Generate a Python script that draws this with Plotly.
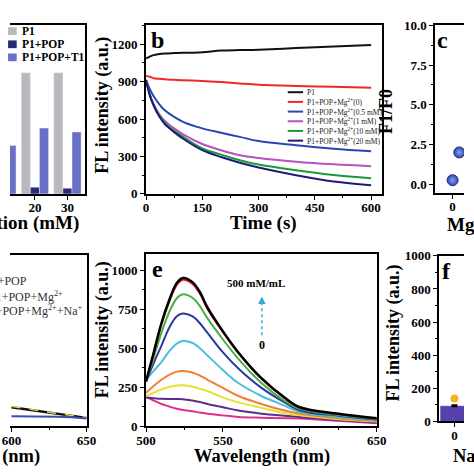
import plotly.graph_objects as go

W = 474
SERIF = "Liberation Serif"

# panel a: bars vs concentration (mM)
conc_a = [10, 20, 30]
p1_a = [862, 862, 862]
p1_pop_a = [50, 48, 41]
p1_pop_t1_a = [345, 469, 441]

# panel b: kinetics, time (s)
time_b = [0, 10, 20, 35, 50, 75, 100, 150, 200, 250, 300, 400, 500, 600]
b_p1 = [1085, 1100, 1112, 1120, 1125, 1128, 1130, 1135, 1148, 1152, 1155, 1168, 1180, 1192]
b_mg0 = [944, 938, 927, 922, 918, 914, 910, 905, 896, 885, 875, 865, 858, 851]
b_mg05 = [913, 840, 784, 720, 670, 617, 575, 525, 490, 457, 423, 390, 362, 341]
b_mg1 = [913, 800, 720, 640, 585, 525, 475, 400, 350, 310, 288, 258, 237, 222]
b_mg10 = [913, 795, 715, 630, 570, 505, 455, 365, 315, 270, 235, 190, 152, 126]
b_mg20 = [913, 790, 710, 622, 560, 495, 440, 350, 295, 250, 212, 150, 100, 70]
b_names = ["P1", "P1+POP+Mg<sup>2+</sup>(0)", "P1+POP+Mg<sup>2+</sup>(0.5 mM)",
           "P1+POP+Mg<sup>2+</sup>(1 mM)", "P1+POP+Mg<sup>2+</sup>(10 mM)",
           "P1+POP+Mg<sup>2+</sup>(20 mM)"]
b_colors = ["#111111", "#f02828", "#2a44b8", "#b850c0", "#1c9a3a", "#1c1c78"]

# panel c: F1/F0 vs Mg concentration
conc_c = [0, 0.5]
ratio_c = [0.25, 2.0]

# panel d: spectra tails
wl_d = [600, 610, 620, 630, 640, 650]
d_pop = [122, 108, 95, 80, 66, 54]
d_pop_mg = [128, 112, 98, 83, 70, 58]
d_pop_mg_na = [64, 64, 63, 62, 58, 50]
d_names = ["P1+POP", "P1+POP+Mg<sup>2+</sup>", "P1+POP+Mg<sup>2+</sup>+Na<sup>+</sup>"]

# panel e: titration spectra
wl_e = [500, 505, 510, 515, 520, 524, 530, 535, 540, 550, 560, 575, 590, 600, 625, 650]
e_black = [287, 473, 660, 806, 918, 950, 925, 860, 760, 608, 473, 308, 184, 122, 80, 52]
e_red = [287, 465, 650, 795, 905, 938, 913, 850, 752, 603, 470, 305, 182, 120, 78, 50]
e_green = [287, 440, 598, 730, 820, 846, 825, 770, 691, 556, 432, 277, 163, 112, 72, 47]
e_navy = [287, 405, 515, 630, 705, 722, 705, 660, 598, 473, 370, 246, 153, 101, 68, 44]
e_cyan = [298, 355, 411, 480, 530, 546, 535, 500, 453, 360, 277, 194, 132, 91, 60, 40]
e_orange = [215, 258, 298, 330, 350, 354, 345, 325, 298, 246, 194, 143, 101, 81, 52, 34]
e_yellow = [194, 215, 236, 252, 262, 263, 255, 240, 225, 184, 153, 118, 85, 70, 45, 30]
e_purple = [184, 180, 176, 175, 175, 174, 165, 155, 143, 122, 101, 81, 68, 60, 40, 25]
e_pink = [188, 165, 143, 127, 112, 105, 97, 88, 81, 70, 60, 55, 52, 50, 35, 20]
e_series = [e_pink, e_purple, e_yellow, e_orange, e_cyan, e_navy, e_green, e_red, e_black]
e_colors = ["#e0308c", "#5e2a8e", "#e8e030", "#f08034", "#48c0d8", "#2a3a9c", "#44b044", "#e82028", "#000000"]

# panel f
conc_f = [0]
fl_f = [95]
err_f = [5]
dot_f = [138]


def xd(a, b):
  return [a / W, b / W]


def yd(top, bottom):
  return [1 - bottom / W, 1 - top / W]


def px(x):
  return x / W


def py(y):
  return 1 - y / W


def ann(text, x, y, size, anchor="center", bold=True, angle=0, color="black"):
  return dict(text=text, x=px(x), y=py(y), xref="paper", yref="paper", showarrow=False,
              xanchor=anchor, yanchor="middle", textangle=angle,
              font=dict(family=SERIF, size=size, color=color, weight="bold" if bold else "normal"))


fig = go.Figure()

# a
for vals, col, off in [(p1_a, "#b9b9bd", -4.2), (p1_pop_a, "#2a2a7a", -1.4), (p1_pop_t1_a, "#6a70c6", 1.4)]:
  fig.add_trace(go.Bar(x=conc_a, y=vals, marker_color=col, width=2.8, offset=off,
                       xaxis="x", yaxis="y", showlegend=False))

# b
for ys, col, name in zip([b_p1, b_mg0, b_mg05, b_mg1, b_mg10, b_mg20], b_colors, b_names):
  fig.add_trace(go.Scatter(x=time_b, y=ys, mode="lines", line=dict(color=col, width=2, shape="spline"),
                           name=name, xaxis="x2", yaxis="y2", showlegend=False))

# c
fig.add_trace(go.Scatter(x=conc_c, y=ratio_c, mode="markers", xaxis="x3", yaxis="y3", showlegend=False,
                         marker=dict(size=11, color="#2a48b4", line=dict(color="#1a2a80", width=1),
                                     gradient=dict(type="radial", color="#8aa0ea"))))

# d
fig.add_trace(go.Scatter(x=wl_d, y=d_pop, mode="lines", line=dict(color="#111111", width=2.5),
                         name=d_names[0], xaxis="x4", yaxis="y4", showlegend=False))
fig.add_trace(go.Scatter(x=wl_d, y=d_pop_mg, mode="lines", line=dict(color="#e6d040", width=1.5, dash="dash"),
                         name=d_names[1], xaxis="x4", yaxis="y4", showlegend=False))
fig.add_trace(go.Scatter(x=wl_d, y=d_pop_mg_na, mode="lines", line=dict(color="#3a4cb0", width=2),
                         name=d_names[2], xaxis="x4", yaxis="y4", showlegend=False))

# e
for ys, col in zip(e_series, e_colors):
  fig.add_trace(go.Scatter(x=wl_e, y=ys, mode="lines", line=dict(color=col, width=2.5 if col == "#000000" else 2, shape="spline"),
                           xaxis="x5", yaxis="y5", showlegend=False))

# f
fig.add_trace(go.Bar(x=conc_f, y=fl_f, width=3, marker_color="#5540ac", xaxis="x6", yaxis="y6", showlegend=False,
                     error_y=dict(type="data", array=err_f, color="black", thickness=1.5, width=3)))
fig.add_trace(go.Scatter(x=conc_f, y=dot_f, mode="markers", marker=dict(size=8, color="#f5b224"),
                         xaxis="x6", yaxis="y6", showlegend=False))

tick_font = dict(family=SERIF, size=13, color="black", weight="bold")
axis_common = dict(showgrid=False, zeroline=False, linecolor="black", linewidth=1.6,
                   ticks="outside", ticklen=4, tickwidth=1.3, tickcolor="black", tickfont=tick_font)
minor = dict(ticks="outside", ticklen=2, tickcolor="black", tickwidth=1)

fig.update_layout(
  width=W, height=W, margin=dict(l=0, r=0, t=0, b=0),
  paper_bgcolor="white", plot_bgcolor="white", barmode="overlay",
  # a
  xaxis=dict(domain=xd(0, 78), range=[12.35, 35.3], tickvals=conc_a, showline=True, mirror=True,
             ticklabelstandoff=-3, **axis_common),
  yaxis=dict(domain=yd(19, 193), range=[0, 1200], side="right", showline=True, showticklabels=False,
             ticks="", showgrid=False, zeroline=False, linecolor="black", linewidth=1.6),
  # b
  xaxis2=dict(domain=xd(142, 388), range=[0, 628], tickvals=[0, 150, 300, 450, 600], showline=True, mirror=True,
              anchor="y2", ticklabelstandoff=-3, minor=dict(dtick=75, **minor), **axis_common),
  yaxis2=dict(domain=yd(19, 193), range=[0, 1350], tickvals=[0, 300, 600, 900, 1200], showline=True, mirror=True,
              anchor="x2", minor=dict(dtick=150, **minor), **axis_common),
  # c
  xaxis3=dict(domain=xd(444, 474), range=[-1.29, 0.85], tickvals=[0], showline=True, mirror=True, anchor="y3",
              ticklabelstandoff=-3, **axis_common),
  yaxis3=dict(domain=yd(19, 192), range=[-0.55, 10], tickvals=[0, 2.5, 5, 7.5, 10], tickformat=".1f", showline=True,
              anchor="x3", minor=dict(dtick=1.25, **minor), **axis_common),
  # d
  xaxis4=dict(domain=xd(0, 80), range=[599, 650], tickvals=[600, 650], showline=True, mirror=True, anchor="y4",
              ticklabelstandoff=-3, minor=dict(dtick=25, **minor), **axis_common),
  yaxis4=dict(domain=yd(256, 433), range=[0, 1100], side="right", showline=True, showticklabels=False,
              ticks="", showgrid=False, zeroline=False, linecolor="black", linewidth=1.6, anchor="x4"),
  # e
  xaxis5=dict(domain=xd(142, 383), range=[500, 650], tickvals=[500, 550, 600, 650], showline=True, mirror=True,
              anchor="y5", ticklabelstandoff=-3, minor=dict(dtick=25, **minor), **axis_common),
  yaxis5=dict(domain=yd(255, 433), range=[0, 1104], tickvals=[0, 250, 500, 750, 1000], showline=True, mirror=True,
              anchor="x5", minor=dict(dtick=125, **minor), **axis_common),
  # f
  xaxis6=dict(domain=xd(448, 474), range=[-1.6, 1.0], tickvals=[0], showline=True, mirror=True, anchor="y6",
              ticklabelstandoff=-3, **axis_common),
  yaxis6=dict(domain=yd(257, 428), range=[0, 1000], tickvals=[0, 200, 400, 600, 800, 1000], showline=True,
              anchor="x6", minor=dict(dtick=100, **minor), **axis_common),
)

anns = [
  ann("Concentration (mM)", 74, 223, 19, anchor="right"),
  ann("Time (s)", 265, 223, 19),
  ann("Mg<sup>2+</sup> concentration (mM)", 454, 224, 19, anchor="left"),
  ann("FL intensity (a.u.)", 97, 101, 18, angle=-90),
  ann("F1/F0", 392, 108, 18, angle=-90),
  ann("Wavelength (nm)", 33, 464, 18.5, anchor="right"),
  ann("Wavelength (nm)", 263, 464, 18.5),
  ann("NaCl concentration (mM)", 460, 464, 18.5, anchor="left"),
  ann("FL intensity (a.u.)", 97, 333, 18, angle=-90),
  ann("FL intensity (a.u.)", 400, 337, 18, angle=-90),
  ann("b", 154, 34, 24),
  ann("c", 452, 34, 24),
  ann("e", 154, 271, 24),
  ann("f", 456, 273, 24),
  ann("500 mM/mL", 257, 285, 11),
  ann("0", 263, 349, 12),
]

# panel a legend
for i, (lbl, col) in enumerate([("P1", "#b9b9bd"), ("P1+POP", "#2a2a7a"), ("P1+POP+T1", "#6a70c6")]):
  yc = 25 + 13.5 * i
  fig.add_shape(type="rect", xref="paper", yref="paper", x0=px(-2), x1=px(7), y0=py(yc - 4), y1=py(yc + 4),
                fillcolor=col, line=dict(width=0))
  anns.append(ann(lbl, 10, yc, 11.5, anchor="left"))

# panel b legend
for i, (lbl, col) in enumerate(zip(b_names, b_colors)):
  yc = 88 + 10 * i
  fig.add_shape(type="line", xref="paper", yref="paper", x0=px(290), x1=px(306), y0=py(yc), y1=py(yc),
                line=dict(color=col, width=2))
  anns.append(ann(lbl, 308, yc, 7.5, anchor="left", bold=False, color="#222222"))

# panel d legend
for lbl, xr, yc in zip(d_names, [20, 57, 78], [283, 299, 313]):
  anns.append(ann(lbl, xr, yc, 12, anchor="right", bold=False, color="#333333"))

# dotted arrow in e
fig.add_shape(type="line", xref="paper", yref="paper", x0=px(263), x1=px(263), y0=py(339), y1=py(303),
              line=dict(color="#35a8d8", width=1.5, dash="dot"))
anns.append(dict(text="", x=px(263), y=py(299), xref="paper", yref="paper", showarrow=True,
                 ax=0, ay=8, arrowhead=2, arrowsize=1, arrowwidth=1.5, arrowcolor="#35a8d8"))

fig.update_layout(annotations=anns)
fig.write_html("out.html", config={"displayModeBar": False},
               post_script="document.body.style.margin='0';document.documentElement.style.overflow='hidden';")
